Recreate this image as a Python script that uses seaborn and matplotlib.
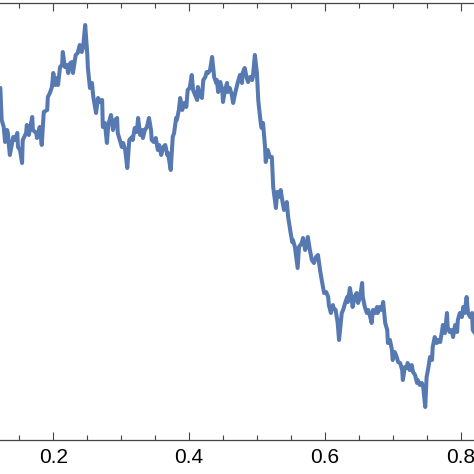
import matplotlib
matplotlib.use("Agg")
import matplotlib.pyplot as plt
import seaborn as sns
import pandas as pd
from matplotlib.ticker import MultipleLocator

t = [0.122, 0.124, 0.127, 0.129, 0.132, 0.133, 0.136, 0.141, 0.144, 0.147,
     0.148, 0.151, 0.154, 0.155, 0.160, 0.161, 0.164, 0.169, 0.170, 0.175,
     0.176, 0.180, 0.183, 0.186, 0.191, 0.192, 0.195, 0.198, 0.200, 0.203,
     0.206, 0.207, 0.210, 0.213, 0.214, 0.217, 0.220, 0.222, 0.225, 0.228,
     0.229, 0.233, 0.236, 0.239, 0.242, 0.244, 0.247, 0.250, 0.251, 0.254,
     0.257, 0.259, 0.263, 0.266, 0.269, 0.272, 0.273, 0.276, 0.279, 0.281,
     0.285, 0.288, 0.291, 0.294, 0.295, 0.298, 0.301, 0.303, 0.306, 0.309,
     0.312, 0.316, 0.317, 0.320, 0.323, 0.325, 0.328, 0.331, 0.332, 0.335,
     0.338, 0.341, 0.344, 0.345, 0.348, 0.351, 0.354, 0.356, 0.359, 0.362,
     0.365, 0.368, 0.369, 0.373, 0.376, 0.378, 0.381, 0.382, 0.385, 0.387,
     0.390, 0.393, 0.396, 0.398, 0.401, 0.404, 0.406, 0.409, 0.412, 0.413,
     0.416, 0.419, 0.421, 0.424, 0.426, 0.428, 0.431, 0.434, 0.437, 0.440,
     0.441, 0.443, 0.446, 0.449, 0.450, 0.453, 0.456, 0.457, 0.460, 0.463,
     0.465, 0.468, 0.471, 0.472, 0.475, 0.478, 0.479, 0.482, 0.485, 0.487,
     0.490, 0.493, 0.494, 0.497, 0.500, 0.502, 0.503, 0.506, 0.507, 0.509,
     0.512, 0.513, 0.516, 0.519, 0.522, 0.524, 0.528, 0.530, 0.532, 0.535,
     0.538, 0.540, 0.544, 0.546, 0.549, 0.552, 0.553, 0.556, 0.560, 0.562,
     0.566, 0.568, 0.571, 0.574, 0.575, 0.578, 0.581, 0.584, 0.587, 0.590,
     0.593, 0.596, 0.599, 0.602, 0.605, 0.606, 0.609, 0.612, 0.613, 0.616,
     0.619, 0.621, 0.625, 0.627, 0.630, 0.633, 0.634, 0.637, 0.640, 0.641,
     0.644, 0.647, 0.649, 0.652, 0.655, 0.656, 0.659, 0.662, 0.664, 0.667,
     0.669, 0.671, 0.674, 0.677, 0.678, 0.681, 0.684, 0.686, 0.689, 0.692,
     0.693, 0.696, 0.699, 0.700, 0.703, 0.706, 0.708, 0.711, 0.714, 0.715,
     0.718, 0.721, 0.722, 0.725, 0.728, 0.730, 0.733, 0.736, 0.737, 0.740,
     0.743, 0.745, 0.748, 0.750, 0.752, 0.755, 0.758, 0.759, 0.762, 0.765,
     0.767, 0.770, 0.773, 0.774, 0.777, 0.780, 0.781, 0.784, 0.787, 0.789,
     0.792, 0.795, 0.796, 0.799, 0.802, 0.804, 0.806, 0.809, 0.811, 0.814,
     0.817, 0.818, 0.823]

w = [3.52, 3.20, 3.13, 2.98, 3.10, 3.07, 2.85, 3.03, 3.00, 3.07,
     2.93, 2.90, 2.77, 3.00, 3.07, 3.15, 3.05, 3.23, 3.10, 3.07,
     3.02, 3.13, 2.95, 3.28, 3.30, 3.43, 3.47, 3.53, 3.67, 3.55,
     3.62, 3.55, 3.73, 3.75, 3.88, 3.73, 3.75, 3.67, 3.77, 3.78,
     3.67, 3.85, 3.87, 3.95, 3.88, 3.93, 4.15, 3.87, 3.72, 3.52,
     3.57, 3.43, 3.27, 3.42, 3.38, 3.40, 3.13, 3.17, 2.97, 3.15,
     3.25, 3.10, 3.20, 3.22, 3.07, 3.00, 2.93, 2.97, 2.90, 2.72,
     3.00, 3.03, 3.00, 3.12, 3.08, 3.22, 3.05, 3.10, 3.02, 3.10,
     3.13, 3.22, 3.10, 3.00, 2.98, 3.02, 2.90, 2.95, 2.85, 2.93,
     2.95, 2.85, 2.87, 2.70, 3.03, 3.07, 3.22, 3.20, 3.30, 3.42,
     3.30, 3.37, 3.33, 3.50, 3.52, 3.65, 3.50, 3.45, 3.40, 3.53,
     3.45, 3.42, 3.60, 3.63, 3.68, 3.67, 3.70, 3.83, 3.63, 3.57,
     3.60, 3.48, 3.58, 3.50, 3.38, 3.50, 3.57, 3.48, 3.52, 3.45,
     3.37, 3.47, 3.55, 3.58, 3.65, 3.57, 3.67, 3.72, 3.62, 3.58,
     3.63, 3.60, 3.63, 3.85, 3.67, 3.40, 3.33, 3.15, 3.12, 3.17,
     2.93, 2.78, 2.90, 2.83, 2.83, 2.53, 2.32, 2.48, 2.43, 2.50,
     2.37, 2.30, 2.38, 2.23, 2.10, 1.98, 2.00, 1.93, 1.72, 1.93,
     1.97, 2.02, 1.90, 1.97, 2.03, 1.90, 1.80, 1.77, 1.83, 1.85,
     1.70, 1.58, 1.47, 1.48, 1.43, 1.35, 1.27, 1.35, 1.32, 1.30,
     1.17, 1.00, 1.27, 1.30, 1.37, 1.43, 1.38, 1.52, 1.40, 1.33,
     1.43, 1.47, 1.37, 1.43, 1.57, 1.43, 1.33, 1.27, 1.30, 1.23,
     1.17, 1.30, 1.27, 1.33, 1.27, 1.33, 1.30, 1.38, 1.17, 1.10,
     0.97, 1.00, 0.90, 0.80, 0.88, 0.83, 0.78, 0.77, 0.70, 0.60,
     0.73, 0.72, 0.77, 0.70, 0.75, 0.68, 0.65, 0.57, 0.60, 0.55,
     0.57, 0.53, 0.33, 0.63, 0.70, 0.83, 0.80, 0.93, 1.03, 0.97,
     1.00, 0.98, 1.10, 1.15, 1.07, 1.27, 1.13, 1.08, 1.10, 1.03,
     1.15, 1.08, 1.20, 1.27, 1.23, 1.33, 1.27, 1.43, 1.27, 1.23,
     1.27, 1.10, 1.05]

x_ticks = [0.2, 0.4, 0.6, 0.8]
x_tick_labels = ["0.2", "0.4", "0.6", "0.8"]

sns.set_theme(style="ticks")
plt.rcParams["font.family"] = ["Liberation Sans", "DejaVu Sans"]

df = pd.DataFrame({"t": t, "w": w})

fig = plt.figure(figsize=(4.74, 4.74), dpi=100)
# frame runs past the cropped picture on the left and right
ax = fig.add_axes([-0.174, 0.0717, 1.432, 0.922])

sns.lineplot(data=df, x="t", y="w", sort=False, estimator=None,
             color="#5679b2", linewidth=2.9, ax=ax)

ax.set_xlim(0, 1)
ax.set_ylim(0, 4.37)
ax.set_xticks(x_ticks)
ax.set_xticklabels(x_tick_labels)
ax.xaxis.set_minor_locator(MultipleLocator(0.05))
ax.set_yticks([])
ax.set_xlabel("")
ax.set_ylabel("")

for s in ax.spines.values():
    s.set_visible(True)
    s.set_color("#444444")
    s.set_linewidth(0.9)

ax.tick_params(axis="x", which="major", direction="in", length=5.5, width=0.8,
               color="#444444", top=True, bottom=True, labelsize=15,
               labelcolor="black", pad=6)
ax.tick_params(axis="x", which="minor", direction="in", length=3.3, width=0.8,
               color="#444444", top=True, bottom=True)

fig.savefig("out.png", dpi=100)
